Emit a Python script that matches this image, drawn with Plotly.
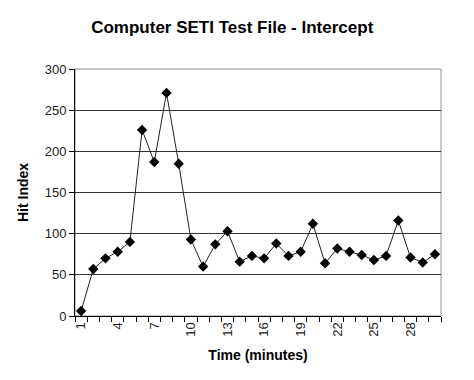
import plotly.graph_objects as go

minutes = list(range(1, 31))
hit_index = [6, 57, 70, 78, 90, 226, 187, 271, 185, 93,
             60, 87, 103, 66, 73, 70, 88, 73, 78, 112,
             64, 82, 78, 74, 68, 73, 116, 71, 65, 75]
tick_vals = list(range(1, 31, 3))
tick_text = [str(v) for v in tick_vals]
y_ticks = [0, 50, 100, 150, 200, 250, 300]

font = "Liberation Sans, Arial, sans-serif"

fig = go.Figure()
fig.add_trace(go.Scatter(
    x=minutes, y=hit_index, mode="lines+markers",
    line=dict(color="#222222", width=1),
    marker=dict(symbol="diamond", size=8, color="black"),
    showlegend=False,
))

fig.update_layout(
    width=474, height=380,
    margin=dict(l=75, r=33, t=69, b=64),
    paper_bgcolor="white", plot_bgcolor="white",
    font=dict(family=font, size=13, color="#222222"),
    title=dict(text="<b>Computer SETI Test File - Intercept</b>",
               x=0.49, xanchor="center", y=0.929, yanchor="middle",
               font=dict(family=font, size=17, color="black")),
    xaxis=dict(
        range=[0.5, 30.5], tickmode="array", tickvals=tick_vals, ticktext=tick_text,
        tickangle=-90, ticks="", showgrid=False, zeroline=False,
        showline=True, linecolor="black", linewidth=1,
        minor=dict(tickmode="array", tickvals=[i + 0.5 for i in range(0, 31)],
                   ticks="outside", ticklen=5, tickcolor="black", showgrid=False),
        title=dict(text="<b>Time (minutes)</b>", font=dict(family=font, size=14, color="black"), standoff=14),
        tickfont=dict(family=font, size=13),
    ),
    yaxis=dict(
        range=[0, 300], tickmode="array", tickvals=y_ticks,
        ticks="outside", ticklen=5, tickcolor="black",
        showgrid=True, gridcolor="#333333", gridwidth=1, zeroline=False,
        showline=True, linecolor="black", linewidth=1,
        title=dict(text="<b>Hit Index</b>", font=dict(family=font, size=14, color="black"), standoff=12),
        tickfont=dict(family=font, size=13),
    ),
    shapes=[dict(type="rect", xref="paper", yref="paper", x0=0, x1=1, y0=0, y1=1,
                 line=dict(color="#909090", width=1), layer="below")],
)

fig.write_html("out.html")
